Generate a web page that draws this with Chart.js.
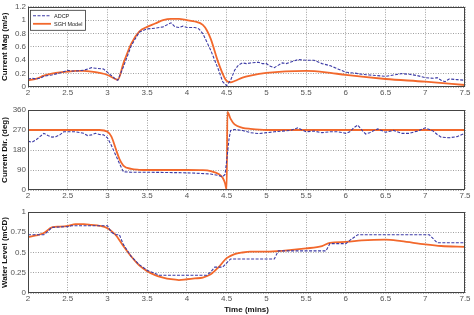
<!DOCTYPE html>
<html><head><meta charset="utf-8">
<script src="https://cdn.jsdelivr.net/npm/chart.js@4"></script>
<style>
body{margin:0;background:#fff;width:474px;height:315px;overflow:hidden;position:relative;font-family:"Liberation Sans",Arial,sans-serif}
canvas{position:absolute;left:0;display:block}
</style></head><body>
<canvas id="c1" width="474" height="100" style="top:0"></canvas>
<canvas id="c2" width="474" height="103" style="top:100px"></canvas>
<canvas id="c3" width="474" height="112" style="top:203px"></canvas>
<script>
// ---- data ----
const xTicks = [2,2.5,3,3.5,4,4.5,5,5.5,6,6.5,7,7.5];
const magTicks = [0,0.2,0.4,0.6,0.8,1,1.2];
const dirTicks = [0,90,180,270,360];
const wlTicks = [0,0.25,0.5,0.75,1];

const magT_adcp = [2.0,2.05,2.1,2.15,2.2,2.3,2.4,2.5,2.55,2.6,2.7,2.8,2.85,2.95,3.0,3.1,3.13,3.2,3.3,3.4,3.5,3.6,3.7,3.8,3.85,3.9,3.95,4.0,4.1,4.15,4.2,4.3,4.4,4.45,4.5,4.55,4.6,4.65,4.7,4.75,4.8,4.9,4.95,5.0,5.05,5.1,5.2,5.25,5.3,5.4,5.5,5.6,5.7,5.8,5.9,6.0,6.1,6.2,6.3,6.4,6.5,6.6,6.7,6.8,6.9,7.0,7.1,7.15,7.2,7.25,7.3,7.4,7.5];
const mag_adcp = [0.12,0.13,0.12,0.13,0.16,0.18,0.21,0.25,0.24,0.24,0.25,0.29,0.28,0.27,0.22,0.12,0.10,0.30,0.62,0.82,0.87,0.88,0.90,0.96,0.90,0.89,0.91,0.89,0.89,0.87,0.80,0.55,0.25,0.08,0.02,0.10,0.25,0.33,0.36,0.35,0.36,0.37,0.35,0.35,0.31,0.29,0.36,0.35,0.37,0.41,0.40,0.40,0.35,0.32,0.27,0.22,0.21,0.19,0.18,0.17,0.16,0.18,0.20,0.19,0.17,0.14,0.13,0.14,0.10,0.08,0.12,0.11,0.10];
const magT_model = [2.0,2.1,2.2,2.3,2.4,2.5,2.6,2.7,2.8,2.9,3.0,3.1,3.13,3.2,3.3,3.4,3.5,3.6,3.7,3.8,3.9,4.0,4.1,4.2,4.25,4.3,4.4,4.5,4.55,4.6,4.7,4.8,5.0,5.5,5.75,6.0,6.5,7.0,7.5];
const mag_model = [0.10,0.12,0.17,0.20,0.22,0.23,0.24,0.24,0.23,0.21,0.18,0.12,0.11,0.35,0.65,0.83,0.90,0.95,1.0,1.02,1.02,1.0,0.98,0.93,0.85,0.72,0.35,0.09,0.07,0.09,0.14,0.17,0.21,0.24,0.22,0.18,0.12,0.08,0.03];

const dirT_adcp = [2.0,2.05,2.1,2.15,2.2,2.25,2.3,2.35,2.4,2.45,2.5,2.6,2.7,2.75,2.8,2.85,2.9,2.95,3.0,3.05,3.1,3.15,3.2,3.3,3.5,3.7,3.9,4.1,4.3,4.4,4.45,4.48,4.5,4.53,4.55,4.6,4.7,4.8,4.9,5.0,5.1,5.2,5.3,5.4,5.45,5.5,5.6,5.7,5.8,5.9,6.0,6.05,6.1,6.15,6.2,6.25,6.3,6.4,6.5,6.6,6.7,6.8,6.9,7.0,7.1,7.15,7.2,7.3,7.4,7.5];
const dir_adcp = [220,215,225,240,255,245,238,240,248,262,262,262,255,245,248,255,250,248,235,200,160,120,82,80,80,79,78,76,72,65,60,70,130,230,268,272,268,258,254,258,262,265,268,280,270,262,265,258,262,262,255,262,280,292,270,252,258,275,260,268,255,255,265,280,265,250,238,235,240,255];
const dirT_model = [2.0,2.9,3.0,3.05,3.1,3.15,3.2,3.3,3.4,3.5,4.0,4.2,4.3,4.4,4.45,4.48,4.5,4.51,4.55,4.6,4.7,4.8,5.0,7.5];
const dir_model = [270,270,262,240,190,140,110,95,91,90,90,89,85,72,55,30,2,352,320,295,280,275,270,270];

const wlT_adcp = [2.0,2.2,2.25,2.3,2.5,2.55,3.0,3.05,3.1,3.15,3.2,3.3,3.4,3.5,3.6,3.65,4.25,4.3,4.35,4.45,4.55,5.1,5.15,5.75,5.8,6.0,6.05,6.15,7.05,7.15,7.5];
const wl_adcp = [0.72,0.72,0.76,0.81,0.82,0.83,0.83,0.75,0.72,0.72,0.60,0.45,0.35,0.28,0.24,0.22,0.22,0.26,0.32,0.32,0.42,0.42,0.52,0.52,0.61,0.61,0.65,0.72,0.72,0.62,0.62];
const wlT_model = [2.0,2.1,2.2,2.3,2.4,2.5,2.6,2.7,2.8,2.9,3.0,3.1,3.2,3.3,3.4,3.5,3.6,3.7,3.8,3.9,4.0,4.1,4.2,4.3,4.4,4.5,4.6,4.7,4.8,5.0,5.2,5.5,5.7,5.8,6.0,6.2,6.5,6.7,7.0,7.2,7.5];
const wl_model = [0.69,0.71,0.74,0.81,0.82,0.83,0.85,0.85,0.84,0.83,0.80,0.72,0.58,0.45,0.34,0.27,0.22,0.19,0.17,0.16,0.17,0.18,0.19,0.23,0.32,0.43,0.48,0.50,0.51,0.51,0.52,0.55,0.58,0.62,0.63,0.65,0.66,0.64,0.60,0.58,0.57];

const seriesNames = ['ADCP','SGH Model'];
const BLUE = '#3d3ba6', ORANGE = '#f2682c';

function pts(t, v){ return t.map((x,i)=>({x:x, y:v[i]})); }
function fmt(v){ return String(Math.round(v*100)/100); }

const boxPlugin = {
  id:'box',
  afterDraw(chart){
    const a = chart.chartArea, c = chart.ctx;
    c.save(); c.strokeStyle='#444'; c.lineWidth=1;
    c.strokeRect(Math.round(a.left)+0.5, Math.round(a.top)+0.5, Math.round(a.right-a.left)-1, Math.round(a.bottom-a.top)-1);
    c.restore();
  }
};
const legendPlugin = {
  id:'lg',
  afterDraw(chart, args, opts){
    if(!opts.show) return;
    const a = chart.chartArea, c = chart.ctx;
    const x0 = a.left+2, y0 = a.top+3, w = 55, h = 20;
    c.save();
    c.fillStyle='#fff'; c.fillRect(x0,y0,w,h);
    c.strokeStyle='#333'; c.lineWidth=0.8; c.strokeRect(x0+0.5,y0+0.5,w,h);
    chart.data.datasets.forEach((ds,i)=>{
      const yy = y0 + 6 + i*8;
      c.strokeStyle = ds.borderColor; c.lineWidth = ds.borderWidth;
      c.setLineDash(ds.borderDash||[]);
      c.beginPath(); c.moveTo(x0+3,yy); c.lineTo(x0+21,yy); c.stroke();
      c.setLineDash([]);
      c.fillStyle='#222'; c.font='5.5px "Liberation Sans", Arial'; c.textBaseline='middle';
      c.fillText(ds.label, x0+24, yy+0.5);
    });
    c.restore();
  }
};

function mk(id, dA, dM, yTicks, ylabel, padTop, xH, xTitle, legend){
  const ymin = yTicks[0], ymax = yTicks[yTicks.length-1];
  new Chart(document.getElementById(id), {
    type:'line',
    data:{datasets:[
      {label:seriesNames[0], data:dA, borderColor:BLUE, borderWidth:1.1, borderDash:[3,1.5], pointRadius:0, tension:0, fill:false},
      {label:seriesNames[1], data:dM, borderColor:ORANGE, borderWidth:1.8, pointRadius:0, cubicInterpolationMode:'monotone', fill:false}
    ]},
    options:{
      responsive:false, animation:false, events:[],
      layout:{padding:{top:padTop, right:9, left:0, bottom:0}},
      plugins:{legend:{display:false}, tooltip:{enabled:false}, lg:{show:legend}},
      scales:{
        x:{type:'linear', min:2, max:7.5,
           afterBuildTicks(s){ s.ticks = xTicks.map(v=>({value:v})); },
           afterFit(s){ s.height = xH; },
           ticks:{callback:v=>fmt(v), color:'#555', font:{size:8, family:'"Liberation Sans", Arial'}, padding:1, maxRotation:0, autoSkip:false},
           grid:{color:'#888', lineWidth:0.8, drawTicks:false},
           border:{display:false, dash:[1,1.5]},
           title:{display:!!xTitle, text:xTitle||'', color:'#111', font:{size:8, weight:'bold', family:'"Liberation Sans", Arial'}, padding:{top:0,bottom:0}}
        },
        y:{type:'linear', min:ymin, max:ymax,
           afterBuildTicks(s){ s.ticks = yTicks.map(v=>({value:v})); },
           afterFit(s){ s.width = 28; },
           ticks:{callback:v=>fmt(v), color:'#555', font:{size:8, family:'"Liberation Sans", Arial'}, padding:2},
           grid:{color:'#888', lineWidth:0.8, drawTicks:false},
           border:{display:false, dash:[1,1.5]},
           title:{display:true, text:ylabel, color:'#111', font:{size:8, weight:'bold', family:'"Liberation Sans", Arial'}, padding:{top:0,bottom:1}}
        }
      }
    },
    plugins:[boxPlugin, legendPlugin]
  });
}

mk('c1', pts(magT_adcp, mag_adcp), pts(magT_model, mag_model), magTicks, 'Current Mag (m/s)', 6, 13, null, true);
mk('c2', pts(dirT_adcp, dir_adcp), pts(dirT_model, dir_model), dirTicks, 'Current Dir. (deg)', 10, 13, null, false);
mk('c3', pts(wlT_adcp, wl_adcp), pts(wlT_model, wl_model), wlTicks, 'Water Level (mCD)', 9, 22, 'Time (mins)', false);
</script>
</body></html>
